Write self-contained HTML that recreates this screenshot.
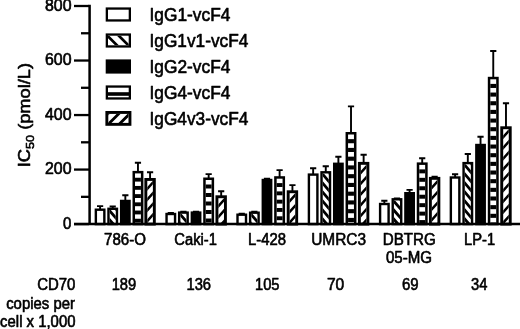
<!DOCTYPE html>
<html><head><meta charset="utf-8"><title>IC50 chart</title>
<style>
html,body{margin:0;padding:0;background:#fff;}
body{width:520px;height:329px;overflow:hidden;}
svg{display:block;}
#chart{filter:blur(0.4px);}
text{font-family:"Liberation Sans", Arial, Helvetica, sans-serif;fill:#000;stroke:#000;stroke-width:0.6px;stroke-linejoin:round;}
.k{stroke:#000;fill:none;}
</style></head><body>
<svg width="520" height="329" viewBox="0 0 520 329">
<rect x="-5" y="-5" width="530" height="339" fill="#fff"/>
<g id="chart">

<path class="k" stroke-width="1.9" d="M97.00 206.15H103.20M100.10 206.15V209.50"/>
<rect x="95.85" y="209.70" width="8.50" height="14.40" fill="#fff"/>
<rect class="k" x="95.85" y="209.70" width="8.50" height="14.40" stroke-width="2.4"/>
<path class="k" stroke-width="1.9" d="M109.62 206.50H115.82M112.72 206.50V208.60"/>
<rect x="108.47" y="208.80" width="8.50" height="15.30" fill="#fff"/>
<svg x="109.67" y="210.00" width="6.10" height="14.10" overflow="hidden"><path class="k" stroke-width="2.8" d="M-10 -91.70L40 -34.20M-10 -82.70L40 -25.20M-10 -73.70L40 -16.20M-10 -64.70L40 -7.20M-10 -55.70L40 1.80M-10 -46.70L40 10.80M-10 -37.70L40 19.80M-10 -28.70L40 28.80M-10 -19.70L40 37.80M-10 -10.70L40 46.80M-10 -1.70L40 55.80M-10 7.30L40 64.80M-10 16.30L40 73.80M-10 25.30L40 82.80M-10 34.30L40 91.80M-10 43.30L40 100.80M-10 52.30L40 109.80M-10 61.30L40 118.80"/></svg>
<rect class="k" x="108.47" y="208.80" width="8.50" height="15.30" stroke-width="2.4"/>
<path class="k" stroke-width="1.9" d="M122.24 195.30H128.44M125.34 195.30V200.75"/>
<rect x="121.14" y="200.95" width="8.40" height="23.15" fill="#000"/>
<rect class="k" x="121.14" y="200.95" width="8.40" height="23.15" stroke-width="2.4"/>
<path class="k" stroke-width="1.9" d="M134.86 162.70H141.06M137.96 162.70V171.90"/>
<rect x="133.76" y="172.15" width="8.40" height="51.95" fill="#fff"/>
<svg x="135.01" y="173.40" width="5.90" height="50.70" overflow="hidden"><rect x="-1" y="4.35" width="7.90" height="3.85" fill="#000"/><rect x="-1" y="12.55" width="7.90" height="3.85" fill="#000"/><rect x="-1" y="20.75" width="7.90" height="3.85" fill="#000"/><rect x="-1" y="28.95" width="7.90" height="3.85" fill="#000"/><rect x="-1" y="37.15" width="7.90" height="3.85" fill="#000"/><rect x="-1" y="45.35" width="7.90" height="3.85" fill="#000"/><rect x="-1" y="53.55" width="7.90" height="3.85" fill="#000"/><rect x="-1" y="61.75" width="7.90" height="3.85" fill="#000"/></svg>
<rect class="k" x="133.76" y="172.15" width="8.40" height="51.95" stroke-width="2.5"/>
<path class="k" stroke-width="1.9" d="M146.98 172.20H153.18M150.08 172.20V179.00"/>
<rect x="145.83" y="179.45" width="8.50" height="44.65" fill="#fff"/>
<svg x="147.28" y="180.90" width="5.60" height="43.20" overflow="hidden"><path class="k" stroke-width="2.5" d="M-10 -98.50L40 -154.50M-10 -87.80L40 -143.80M-10 -77.10L40 -133.10M-10 -66.40L40 -122.40M-10 -55.70L40 -111.70M-10 -45.00L40 -101.00M-10 -34.30L40 -90.30M-10 -23.60L40 -79.60M-10 -12.90L40 -68.90M-10 -2.20L40 -58.20M-10 8.50L40 -47.50M-10 19.20L40 -36.80M-10 29.90L40 -26.10M-10 40.60L40 -15.40M-10 51.30L40 -4.70M-10 62.00L40 6.00M-10 72.70L40 16.70M-10 83.40L40 27.40M-10 94.10L40 38.10M-10 104.80L40 48.80M-10 115.50L40 59.50M-10 126.20L40 70.20"/></svg>
<rect class="k" x="145.83" y="179.45" width="8.50" height="44.65" stroke-width="2.9"/>
<path class="k" stroke-width="1.9" d="M167.70 212.90H173.90M170.80 212.90V213.80"/>
<rect x="166.55" y="214.00" width="8.50" height="10.10" fill="#fff"/>
<rect class="k" x="166.55" y="214.00" width="8.50" height="10.10" stroke-width="2.4"/>
<path class="k" stroke-width="1.9" d="M180.32 211.60H186.52M183.42 211.60V212.40"/>
<rect x="179.17" y="212.60" width="8.50" height="11.50" fill="#fff"/>
<svg x="180.37" y="213.80" width="6.10" height="10.30" overflow="hidden"><path class="k" stroke-width="2.8" d="M-10 -91.70L40 -34.20M-10 -82.70L40 -25.20M-10 -73.70L40 -16.20M-10 -64.70L40 -7.20M-10 -55.70L40 1.80M-10 -46.70L40 10.80M-10 -37.70L40 19.80M-10 -28.70L40 28.80M-10 -19.70L40 37.80M-10 -10.70L40 46.80M-10 -1.70L40 55.80M-10 7.30L40 64.80M-10 16.30L40 73.80M-10 25.30L40 82.80M-10 34.30L40 91.80M-10 43.30L40 100.80M-10 52.30L40 109.80M-10 61.30L40 118.80"/></svg>
<rect class="k" x="179.17" y="212.60" width="8.50" height="11.50" stroke-width="2.4"/>
<path class="k" stroke-width="1.9" d="M192.94 211.60H199.14M196.04 211.60V212.40"/>
<rect x="191.84" y="212.60" width="8.40" height="11.50" fill="#000"/>
<rect class="k" x="191.84" y="212.60" width="8.40" height="11.50" stroke-width="2.4"/>
<path class="k" stroke-width="1.9" d="M205.56 174.10H211.76M208.66 174.10V178.50"/>
<rect x="204.46" y="178.75" width="8.40" height="45.35" fill="#fff"/>
<svg x="205.71" y="180.00" width="5.90" height="44.10" overflow="hidden"><rect x="-1" y="4.50" width="7.90" height="4.00" fill="#000"/><rect x="-1" y="13.00" width="7.90" height="4.00" fill="#000"/><rect x="-1" y="21.50" width="7.90" height="4.00" fill="#000"/><rect x="-1" y="30.00" width="7.90" height="4.00" fill="#000"/><rect x="-1" y="38.51" width="7.90" height="4.00" fill="#000"/><rect x="-1" y="47.01" width="7.90" height="4.00" fill="#000"/><rect x="-1" y="55.51" width="7.90" height="4.00" fill="#000"/></svg>
<rect class="k" x="204.46" y="178.75" width="8.40" height="45.35" stroke-width="2.5"/>
<path class="k" stroke-width="1.9" d="M218.08 191.20H224.28M221.18 191.20V196.30"/>
<rect x="216.93" y="196.75" width="8.50" height="27.35" fill="#fff"/>
<svg x="218.38" y="198.20" width="5.60" height="25.90" overflow="hidden"><path class="k" stroke-width="2.5" d="M-10 -77.10L40 -133.10M-10 -66.40L40 -122.40M-10 -55.70L40 -111.70M-10 -45.00L40 -101.00M-10 -34.30L40 -90.30M-10 -23.60L40 -79.60M-10 -12.90L40 -68.90M-10 -2.20L40 -58.20M-10 8.50L40 -47.50M-10 19.20L40 -36.80M-10 29.90L40 -26.10M-10 40.60L40 -15.40M-10 51.30L40 -4.70M-10 62.00L40 6.00M-10 72.70L40 16.70M-10 83.40L40 27.40M-10 94.10L40 38.10M-10 104.80L40 48.80"/></svg>
<rect class="k" x="216.93" y="196.75" width="8.50" height="27.35" stroke-width="2.9"/>
<path class="k" stroke-width="1.9" d="M238.65 213.70H244.85M241.75 213.70V214.50"/>
<rect x="237.50" y="214.70" width="8.50" height="9.40" fill="#fff"/>
<rect class="k" x="237.50" y="214.70" width="8.50" height="9.40" stroke-width="2.4"/>
<path class="k" stroke-width="1.9" d="M251.27 211.70H257.47M254.37 211.70V212.50"/>
<rect x="250.12" y="212.70" width="8.50" height="11.40" fill="#fff"/>
<svg x="251.32" y="213.90" width="6.10" height="10.20" overflow="hidden"><path class="k" stroke-width="2.8" d="M-10 -91.70L40 -34.20M-10 -82.70L40 -25.20M-10 -73.70L40 -16.20M-10 -64.70L40 -7.20M-10 -55.70L40 1.80M-10 -46.70L40 10.80M-10 -37.70L40 19.80M-10 -28.70L40 28.80M-10 -19.70L40 37.80M-10 -10.70L40 46.80M-10 -1.70L40 55.80M-10 7.30L40 64.80M-10 16.30L40 73.80M-10 25.30L40 82.80M-10 34.30L40 91.80M-10 43.30L40 100.80M-10 52.30L40 109.80M-10 61.30L40 118.80"/></svg>
<rect class="k" x="250.12" y="212.70" width="8.50" height="11.40" stroke-width="2.4"/>
<path class="k" stroke-width="1.9" d="M263.89 178.80H270.09M266.99 178.80V179.80"/>
<rect x="262.79" y="180.00" width="8.40" height="44.10" fill="#000"/>
<rect class="k" x="262.79" y="180.00" width="8.40" height="44.10" stroke-width="2.4"/>
<path class="k" stroke-width="1.9" d="M276.51 170.10H282.71M279.61 170.10V177.20"/>
<rect x="275.41" y="177.45" width="8.40" height="46.65" fill="#fff"/>
<svg x="276.66" y="178.70" width="5.90" height="45.40" overflow="hidden"><rect x="-1" y="4.40" width="7.90" height="3.90" fill="#000"/><rect x="-1" y="12.70" width="7.90" height="3.90" fill="#000"/><rect x="-1" y="21.00" width="7.90" height="3.90" fill="#000"/><rect x="-1" y="29.30" width="7.90" height="3.90" fill="#000"/><rect x="-1" y="37.60" width="7.90" height="3.90" fill="#000"/><rect x="-1" y="45.90" width="7.90" height="3.90" fill="#000"/><rect x="-1" y="54.20" width="7.90" height="3.90" fill="#000"/></svg>
<rect class="k" x="275.41" y="177.45" width="8.40" height="46.65" stroke-width="2.5"/>
<path class="k" stroke-width="1.9" d="M289.33 185.10H295.53M292.43 185.10V191.30"/>
<rect x="288.18" y="191.75" width="8.50" height="32.35" fill="#fff"/>
<svg x="289.63" y="193.20" width="5.60" height="30.90" overflow="hidden"><path class="k" stroke-width="2.5" d="M-10 -87.80L40 -143.80M-10 -77.10L40 -133.10M-10 -66.40L40 -122.40M-10 -55.70L40 -111.70M-10 -45.00L40 -101.00M-10 -34.30L40 -90.30M-10 -23.60L40 -79.60M-10 -12.90L40 -68.90M-10 -2.20L40 -58.20M-10 8.50L40 -47.50M-10 19.20L40 -36.80M-10 29.90L40 -26.10M-10 40.60L40 -15.40M-10 51.30L40 -4.70M-10 62.00L40 6.00M-10 72.70L40 16.70M-10 83.40L40 27.40M-10 94.10L40 38.10M-10 104.80L40 48.80M-10 115.50L40 59.50"/></svg>
<rect class="k" x="288.18" y="191.75" width="8.50" height="32.35" stroke-width="2.9"/>
<path class="k" stroke-width="1.9" d="M310.05 168.20H316.25M313.15 168.20V174.40"/>
<rect x="308.90" y="174.60" width="8.50" height="49.50" fill="#fff"/>
<rect class="k" x="308.90" y="174.60" width="8.50" height="49.50" stroke-width="2.4"/>
<path class="k" stroke-width="1.9" d="M322.67 166.20H328.87M325.77 166.20V172.10"/>
<rect x="321.52" y="172.30" width="8.50" height="51.80" fill="#fff"/>
<svg x="322.72" y="173.50" width="6.10" height="50.60" overflow="hidden"><path class="k" stroke-width="2.8" d="M-10 -127.70L40 -70.20M-10 -118.70L40 -61.20M-10 -109.70L40 -52.20M-10 -100.70L40 -43.20M-10 -91.70L40 -34.20M-10 -82.70L40 -25.20M-10 -73.70L40 -16.20M-10 -64.70L40 -7.20M-10 -55.70L40 1.80M-10 -46.70L40 10.80M-10 -37.70L40 19.80M-10 -28.70L40 28.80M-10 -19.70L40 37.80M-10 -10.70L40 46.80M-10 -1.70L40 55.80M-10 7.30L40 64.80M-10 16.30L40 73.80M-10 25.30L40 82.80M-10 34.30L40 91.80M-10 43.30L40 100.80M-10 52.30L40 109.80M-10 61.30L40 118.80M-10 70.30L40 127.80M-10 79.30L40 136.80M-10 88.30L40 145.80M-10 97.30L40 154.80"/></svg>
<rect class="k" x="321.52" y="172.30" width="8.50" height="51.80" stroke-width="2.4"/>
<path class="k" stroke-width="1.9" d="M335.29 156.80H341.49M338.39 156.80V163.60"/>
<rect x="334.19" y="163.80" width="8.40" height="60.30" fill="#000"/>
<rect class="k" x="334.19" y="163.80" width="8.40" height="60.30" stroke-width="2.4"/>
<path class="k" stroke-width="1.9" d="M347.91 106.40H354.11M351.01 106.40V133.00"/>
<rect x="346.81" y="133.25" width="8.40" height="90.85" fill="#fff"/>
<svg x="348.06" y="134.50" width="5.90" height="89.60" overflow="hidden"><rect x="-1" y="4.64" width="7.90" height="4.11" fill="#000"/><rect x="-1" y="13.39" width="7.90" height="4.11" fill="#000"/><rect x="-1" y="22.14" width="7.90" height="4.11" fill="#000"/><rect x="-1" y="30.89" width="7.90" height="4.11" fill="#000"/><rect x="-1" y="39.64" width="7.90" height="4.11" fill="#000"/><rect x="-1" y="48.39" width="7.90" height="4.11" fill="#000"/><rect x="-1" y="57.14" width="7.90" height="4.11" fill="#000"/><rect x="-1" y="65.89" width="7.90" height="4.11" fill="#000"/><rect x="-1" y="74.64" width="7.90" height="4.11" fill="#000"/><rect x="-1" y="83.39" width="7.90" height="4.11" fill="#000"/><rect x="-1" y="92.14" width="7.90" height="4.11" fill="#000"/><rect x="-1" y="100.89" width="7.90" height="4.11" fill="#000"/></svg>
<rect class="k" x="346.81" y="133.25" width="8.40" height="90.85" stroke-width="2.5"/>
<path class="k" stroke-width="1.9" d="M360.53 154.70H366.73M363.63 154.70V162.90"/>
<rect x="359.38" y="163.35" width="8.50" height="60.75" fill="#fff"/>
<svg x="360.83" y="164.80" width="5.60" height="59.30" overflow="hidden"><path class="k" stroke-width="2.5" d="M-10 -109.20L40 -165.20M-10 -98.50L40 -154.50M-10 -87.80L40 -143.80M-10 -77.10L40 -133.10M-10 -66.40L40 -122.40M-10 -55.70L40 -111.70M-10 -45.00L40 -101.00M-10 -34.30L40 -90.30M-10 -23.60L40 -79.60M-10 -12.90L40 -68.90M-10 -2.20L40 -58.20M-10 8.50L40 -47.50M-10 19.20L40 -36.80M-10 29.90L40 -26.10M-10 40.60L40 -15.40M-10 51.30L40 -4.70M-10 62.00L40 6.00M-10 72.70L40 16.70M-10 83.40L40 27.40M-10 94.10L40 38.10M-10 104.80L40 48.80M-10 115.50L40 59.50M-10 126.20L40 70.20M-10 136.90L40 80.90"/></svg>
<rect class="k" x="359.38" y="163.35" width="8.50" height="60.75" stroke-width="2.9"/>
<path class="k" stroke-width="1.9" d="M381.25 200.80H387.45M384.35 200.80V203.80"/>
<rect x="380.10" y="204.00" width="8.50" height="20.10" fill="#fff"/>
<rect class="k" x="380.10" y="204.00" width="8.50" height="20.10" stroke-width="2.4"/>
<path class="k" stroke-width="1.9" d="M393.87 198.50H400.07M396.97 198.50V199.10"/>
<rect x="392.72" y="199.30" width="8.50" height="24.80" fill="#fff"/>
<svg x="393.92" y="200.50" width="6.10" height="23.60" overflow="hidden"><path class="k" stroke-width="2.8" d="M-10 -100.70L40 -43.20M-10 -91.70L40 -34.20M-10 -82.70L40 -25.20M-10 -73.70L40 -16.20M-10 -64.70L40 -7.20M-10 -55.70L40 1.80M-10 -46.70L40 10.80M-10 -37.70L40 19.80M-10 -28.70L40 28.80M-10 -19.70L40 37.80M-10 -10.70L40 46.80M-10 -1.70L40 55.80M-10 7.30L40 64.80M-10 16.30L40 73.80M-10 25.30L40 82.80M-10 34.30L40 91.80M-10 43.30L40 100.80M-10 52.30L40 109.80M-10 61.30L40 118.80M-10 70.30L40 127.80"/></svg>
<rect class="k" x="392.72" y="199.30" width="8.50" height="24.80" stroke-width="2.4"/>
<path class="k" stroke-width="1.9" d="M406.49 189.90H412.69M409.59 189.90V193.00"/>
<rect x="405.39" y="193.20" width="8.40" height="30.90" fill="#000"/>
<rect class="k" x="405.39" y="193.20" width="8.40" height="30.90" stroke-width="2.4"/>
<path class="k" stroke-width="1.9" d="M419.11 158.30H425.31M422.21 158.30V163.40"/>
<rect x="418.01" y="163.65" width="8.40" height="60.45" fill="#fff"/>
<svg x="419.26" y="164.90" width="5.90" height="59.20" overflow="hidden"><rect x="-1" y="4.48" width="7.90" height="3.97" fill="#000"/><rect x="-1" y="12.93" width="7.90" height="3.97" fill="#000"/><rect x="-1" y="21.38" width="7.90" height="3.97" fill="#000"/><rect x="-1" y="29.83" width="7.90" height="3.97" fill="#000"/><rect x="-1" y="38.28" width="7.90" height="3.97" fill="#000"/><rect x="-1" y="46.73" width="7.90" height="3.97" fill="#000"/><rect x="-1" y="55.18" width="7.90" height="3.97" fill="#000"/><rect x="-1" y="63.63" width="7.90" height="3.97" fill="#000"/><rect x="-1" y="72.08" width="7.90" height="3.97" fill="#000"/></svg>
<rect class="k" x="418.01" y="163.65" width="8.40" height="60.45" stroke-width="2.5"/>
<path class="k" stroke-width="1.9" d="M431.53 176.80H437.73M434.63 176.80V177.90"/>
<rect x="430.38" y="178.35" width="8.50" height="45.75" fill="#fff"/>
<svg x="431.83" y="179.80" width="5.60" height="44.30" overflow="hidden"><path class="k" stroke-width="2.5" d="M-10 -98.50L40 -154.50M-10 -87.80L40 -143.80M-10 -77.10L40 -133.10M-10 -66.40L40 -122.40M-10 -55.70L40 -111.70M-10 -45.00L40 -101.00M-10 -34.30L40 -90.30M-10 -23.60L40 -79.60M-10 -12.90L40 -68.90M-10 -2.20L40 -58.20M-10 8.50L40 -47.50M-10 19.20L40 -36.80M-10 29.90L40 -26.10M-10 40.60L40 -15.40M-10 51.30L40 -4.70M-10 62.00L40 6.00M-10 72.70L40 16.70M-10 83.40L40 27.40M-10 94.10L40 38.10M-10 104.80L40 48.80M-10 115.50L40 59.50M-10 126.20L40 70.20"/></svg>
<rect class="k" x="430.38" y="178.35" width="8.50" height="45.75" stroke-width="2.9"/>
<path class="k" stroke-width="1.9" d="M452.00 174.30H458.20M455.10 174.30V177.30"/>
<rect x="450.85" y="177.50" width="8.50" height="46.60" fill="#fff"/>
<rect class="k" x="450.85" y="177.50" width="8.50" height="46.60" stroke-width="2.4"/>
<path class="k" stroke-width="1.9" d="M464.72 154.00H470.92M467.82 154.00V162.90"/>
<rect x="463.57" y="163.10" width="8.50" height="61.00" fill="#fff"/>
<svg x="464.77" y="164.30" width="6.10" height="59.80" overflow="hidden"><path class="k" stroke-width="2.8" d="M-10 -136.70L40 -79.20M-10 -127.70L40 -70.20M-10 -118.70L40 -61.20M-10 -109.70L40 -52.20M-10 -100.70L40 -43.20M-10 -91.70L40 -34.20M-10 -82.70L40 -25.20M-10 -73.70L40 -16.20M-10 -64.70L40 -7.20M-10 -55.70L40 1.80M-10 -46.70L40 10.80M-10 -37.70L40 19.80M-10 -28.70L40 28.80M-10 -19.70L40 37.80M-10 -10.70L40 46.80M-10 -1.70L40 55.80M-10 7.30L40 64.80M-10 16.30L40 73.80M-10 25.30L40 82.80M-10 34.30L40 91.80M-10 43.30L40 100.80M-10 52.30L40 109.80M-10 61.30L40 118.80M-10 70.30L40 127.80M-10 79.30L40 136.80M-10 88.30L40 145.80M-10 97.30L40 154.80M-10 106.30L40 163.80"/></svg>
<rect class="k" x="463.57" y="163.10" width="8.50" height="61.00" stroke-width="2.4"/>
<path class="k" stroke-width="1.9" d="M477.44 136.70H483.64M480.54 136.70V144.80"/>
<rect x="476.34" y="145.00" width="8.40" height="79.10" fill="#000"/>
<rect class="k" x="476.34" y="145.00" width="8.40" height="79.10" stroke-width="2.4"/>
<path class="k" stroke-width="1.9" d="M490.16 51.00H496.36M493.26 51.00V77.80"/>
<rect x="489.06" y="78.05" width="8.40" height="146.05" fill="#fff"/>
<svg x="490.31" y="79.30" width="5.90" height="144.80" overflow="hidden"><rect x="-1" y="4.59" width="7.90" height="4.07" fill="#000"/><rect x="-1" y="13.25" width="7.90" height="4.07" fill="#000"/><rect x="-1" y="21.91" width="7.90" height="4.07" fill="#000"/><rect x="-1" y="30.57" width="7.90" height="4.07" fill="#000"/><rect x="-1" y="39.23" width="7.90" height="4.07" fill="#000"/><rect x="-1" y="47.89" width="7.90" height="4.07" fill="#000"/><rect x="-1" y="56.55" width="7.90" height="4.07" fill="#000"/><rect x="-1" y="65.21" width="7.90" height="4.07" fill="#000"/><rect x="-1" y="73.87" width="7.90" height="4.07" fill="#000"/><rect x="-1" y="82.53" width="7.90" height="4.07" fill="#000"/><rect x="-1" y="91.19" width="7.90" height="4.07" fill="#000"/><rect x="-1" y="99.85" width="7.90" height="4.07" fill="#000"/><rect x="-1" y="108.51" width="7.90" height="4.07" fill="#000"/><rect x="-1" y="117.17" width="7.90" height="4.07" fill="#000"/><rect x="-1" y="125.83" width="7.90" height="4.07" fill="#000"/><rect x="-1" y="134.49" width="7.90" height="4.07" fill="#000"/><rect x="-1" y="143.15" width="7.90" height="4.07" fill="#000"/><rect x="-1" y="151.81" width="7.90" height="4.07" fill="#000"/></svg>
<rect class="k" x="489.06" y="78.05" width="8.40" height="146.05" stroke-width="2.5"/>
<path class="k" stroke-width="1.9" d="M502.88 103.20H509.08M505.98 103.20V127.30"/>
<rect x="501.73" y="127.75" width="8.50" height="96.35" fill="#fff"/>
<svg x="503.18" y="129.20" width="5.60" height="94.90" overflow="hidden"><path class="k" stroke-width="2.5" d="M-10 -152.00L40 -208.00M-10 -141.30L40 -197.30M-10 -130.60L40 -186.60M-10 -119.90L40 -175.90M-10 -109.20L40 -165.20M-10 -98.50L40 -154.50M-10 -87.80L40 -143.80M-10 -77.10L40 -133.10M-10 -66.40L40 -122.40M-10 -55.70L40 -111.70M-10 -45.00L40 -101.00M-10 -34.30L40 -90.30M-10 -23.60L40 -79.60M-10 -12.90L40 -68.90M-10 -2.20L40 -58.20M-10 8.50L40 -47.50M-10 19.20L40 -36.80M-10 29.90L40 -26.10M-10 40.60L40 -15.40M-10 51.30L40 -4.70M-10 62.00L40 6.00M-10 72.70L40 16.70M-10 83.40L40 27.40M-10 94.10L40 38.10M-10 104.80L40 48.80M-10 115.50L40 59.50M-10 126.20L40 70.20M-10 136.90L40 80.90M-10 147.60L40 91.60M-10 158.30L40 102.30M-10 169.00L40 113.00M-10 179.70L40 123.70"/></svg>
<rect class="k" x="501.73" y="127.75" width="8.50" height="96.35" stroke-width="2.9"/>
<path class="k" stroke-width="2.5" d="M89.6 4.85V225.35M74 224.1H530"/>
<path class="k" stroke-width="2.3" d="M74 224.10H89"/>
<path class="k" stroke-width="2.3" d="M81 196.84H89"/>
<path class="k" stroke-width="2.3" d="M74 169.57H89"/>
<path class="k" stroke-width="2.3" d="M81 142.31H89"/>
<path class="k" stroke-width="2.3" d="M74 115.05H89"/>
<path class="k" stroke-width="2.3" d="M81 87.79H89"/>
<path class="k" stroke-width="2.3" d="M74 60.53H89"/>
<path class="k" stroke-width="2.3" d="M81 33.26H89"/>
<path class="k" stroke-width="2.3" d="M74 6.00H89"/>
<text id="t0" transform="translate(63.09 228.85) scale(0.9596 1)" font-size="15.6">0</text>
<text id="t2" transform="translate(44.99 174.32) scale(1.0198 1)" font-size="15.6">200</text>
<text id="t4" transform="translate(44.99 119.80) scale(1.0198 1)" font-size="15.6">400</text>
<text id="t6" transform="translate(44.99 65.28) scale(1.0198 1)" font-size="15.6">600</text>
<text id="t8" transform="translate(44.99 10.75) scale(1.0198 1)" font-size="15.6">800</text>
<text id="c0" transform="translate(104.00 244.50) scale(0.9681 1)" font-size="15.6">786-O</text>
<text id="n0" transform="translate(111.68 289.80) scale(0.9450 1)" font-size="15.6">189</text>
<text id="c1" transform="translate(174.35 244.50) scale(0.9450 1)" font-size="15.6">Caki-1</text>
<text id="n1" transform="translate(186.46 289.80) scale(0.9450 1)" font-size="15.6">136</text>
<text id="c2" transform="translate(247.89 244.50) scale(0.9549 1)" font-size="15.6">L-428</text>
<text id="n2" transform="translate(254.94 289.80) scale(0.9450 1)" font-size="15.6">105</text>
<text id="c3" transform="translate(311.22 244.50) scale(0.9886 1)" font-size="15.6">UMRC3</text>
<text id="n3" transform="translate(326.90 289.80) scale(0.9980 1)" font-size="15.6">70</text>
<text id="c4" transform="translate(382.71 244.50) scale(0.9731 1)" font-size="15.6">DBTRG</text>
<text id="n4" transform="translate(401.96 289.80) scale(0.9596 1)" font-size="15.6">69</text>
<text id="c5" transform="translate(464.08 244.50) scale(0.9450 1)" font-size="15.6">LP-1</text>
<text id="n5" transform="translate(471.00 289.80) scale(0.9450 1)" font-size="15.6">34</text>
<text id="c4b" transform="translate(385.94 263.00) scale(0.9671 1)" font-size="15.6">05-MG</text>
<text id="s0" transform="translate(37.22 290.10) scale(0.9595 1)" font-size="15.6">CD70</text>
<text id="s1" transform="translate(6.17 308.90) scale(0.9561 1)" font-size="15.6">copies per</text>
<text id="s2" transform="translate(0.12 326.50) scale(0.9551 1)" font-size="15.6">cell x 1,000</text>
<text id="l0" transform="translate(149.50 20.70) scale(0.9853 1)" font-size="17.6">IgG1-vcF4</text>
<text id="l1" transform="translate(149.51 46.70) scale(0.9816 1)" font-size="17.6">IgG1v1-vcF4</text>
<text id="l2" transform="translate(149.50 72.70) scale(0.9853 1)" font-size="17.6">IgG2-vcF4</text>
<text id="l3" transform="translate(149.50 98.70) scale(0.9853 1)" font-size="17.6">IgG4-vcF4</text>
<text id="l4" transform="translate(149.51 124.70) scale(0.9816 1)" font-size="17.6">IgG4v3-vcF4</text>
<text transform="translate(29.5 167.3) rotate(-90) scale(1.075 1)" font-size="17">IC<tspan font-size="11.8" dy="4.0">50</tspan><tspan dy="-4.0"> (pmol/L)</tspan></text>
<rect x="106.85" y="8.55" width="23.00" height="11.90" fill="#fff"/>
<rect class="k" x="106.85" y="8.55" width="23.00" height="11.90" stroke-width="2.3"/>
<rect x="106.85" y="34.55" width="23.00" height="11.90" fill="#fff"/>
<svg x="108.00" y="35.70" width="20.70" height="9.60" overflow="hidden"><path class="k" stroke-width="2.7" d="M-10 -89.20L40 -39.20M-10 -77.80L40 -27.80M-10 -66.40L40 -16.40M-10 -55.00L40 -5.00M-10 -43.60L40 6.40M-10 -32.20L40 17.80M-10 -20.80L40 29.20M-10 -9.40L40 40.60M-10 2.00L40 52.00M-10 13.40L40 63.40M-10 24.80L40 74.80M-10 36.20L40 86.20M-10 47.60L40 97.60M-10 59.00L40 109.00"/></svg>
<rect class="k" x="106.85" y="34.55" width="23.00" height="11.90" stroke-width="2.3"/>
<rect x="106.85" y="60.55" width="23.00" height="11.90" fill="#000"/>
<rect class="k" x="106.85" y="60.55" width="23.00" height="11.90" stroke-width="2.3"/>
<rect x="106.85" y="86.55" width="23.00" height="11.90" fill="#fff"/>
<rect x="106.85" y="92.2" width="23.00" height="3.6" fill="#000"/>
<rect class="k" x="106.85" y="86.55" width="23.00" height="11.90" stroke-width="2.3"/>
<rect x="106.85" y="112.45" width="23.10" height="11.90" fill="#fff"/>
<svg x="108.30" y="113.90" width="20.20" height="9.00" overflow="hidden"><path class="k" stroke-width="2.8" d="M-10 -56.00L40 -106.00M-10 -45.10L40 -95.10M-10 -34.20L40 -84.20M-10 -23.30L40 -73.30M-10 -12.40L40 -62.40M-10 -1.50L40 -51.50M-10 9.40L40 -40.60M-10 20.30L40 -29.70M-10 31.20L40 -18.80M-10 42.10L40 -7.90M-10 53.00L40 3.00M-10 63.90L40 13.90M-10 74.80L40 24.80M-10 85.70L40 35.70"/></svg>
<rect class="k" x="106.85" y="112.45" width="23.10" height="11.90" stroke-width="2.9"/>
</g></svg></body></html>
